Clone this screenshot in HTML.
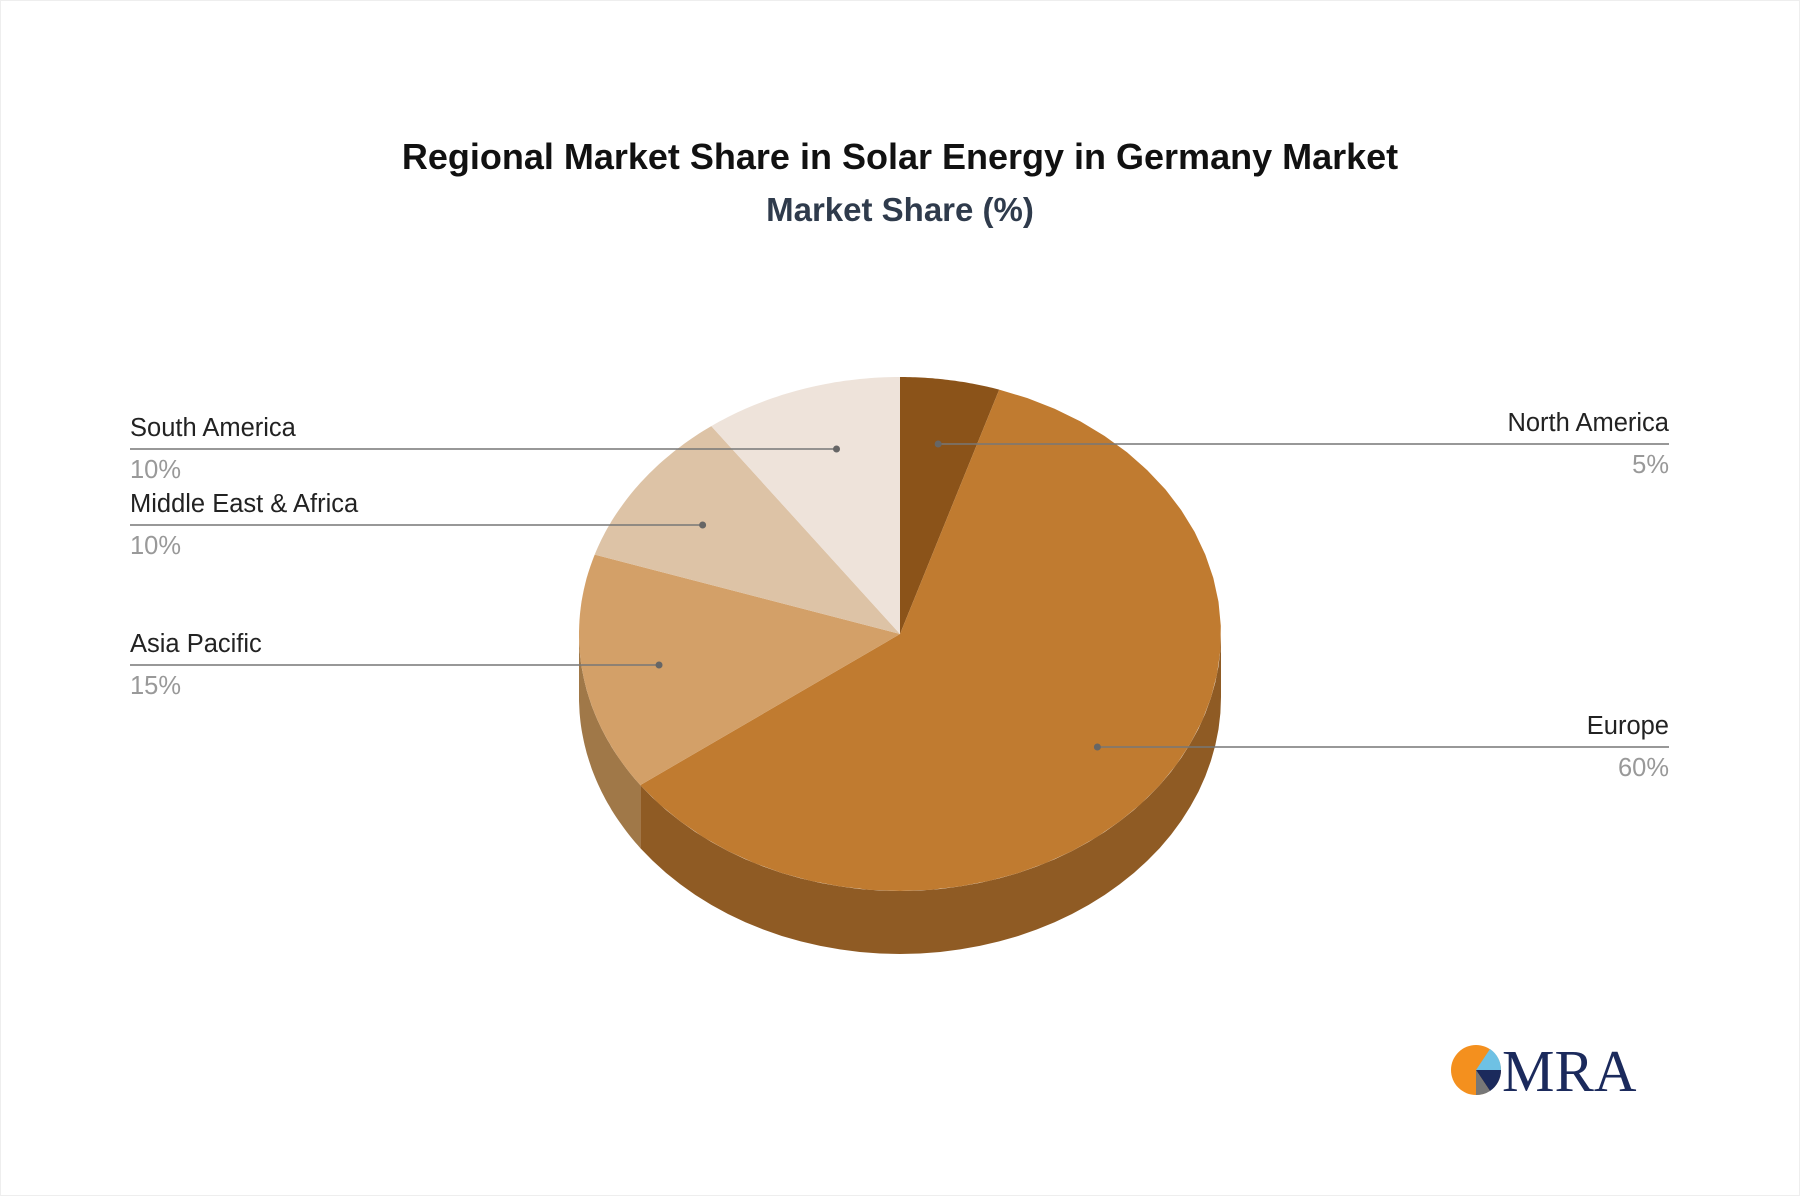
<!DOCTYPE html>
<html><head><meta charset="utf-8"><style>
body{margin:0;width:1800px;height:1196px;background:#fff;overflow:hidden;font-family:"Liberation Sans",sans-serif}
#frame{position:absolute;left:0;top:0;width:1798px;height:1194px;border:1px solid #eee}
</style></head><body>
<div id="frame"></div>
<svg id="chart" width="1800" height="1196" style="position:absolute;left:0;top:0">
<text x="900" y="169" text-anchor="middle" font-size="36" font-weight="bold" fill="#111">Regional Market Share in Solar Energy in Germany Market</text>
<text x="900" y="221" text-anchor="middle" font-size="33" font-weight="bold" fill="#2f3b4c">Market Share (%)</text>
<g id="sides"></g><g id="tops"></g><g id="labels"></g>
<g>
<circle cx="1476" cy="1070" r="25" fill="#F4901E"/>
<path d="M1476 1070 L1501 1070 A25 25 0 0 0 1490 1049 Z" fill="#6EC1E4"/>
<path d="M1476 1070 L1490 1091 A25 25 0 0 0 1501 1070 Z" fill="#1B2A5C"/>
<path d="M1476 1070 L1476 1095 A25 25 0 0 0 1490 1091 Z" fill="#777"/>
<text x="1502" y="1091" font-family="Liberation Serif,serif" font-size="59" fill="#1B2A5C">MRA</text>
</g>
</svg>
<script>
const categories=["North America","Europe","Asia Pacific","Middle East & Africa","South America"];
const shares=[5,60,15,10,10];
const pctLabels=["5%","60%","15%","10%","10%"];
const topColors=["#8B5319","#C07B30","#D3A068","#DDC3A6","#EEE3DA"];
const sideColors=["#6E4214","#8F5B24","#A07848","#B09A80","#C0B5AA"];
const cx=900,cy=634,rx=321,ry=257,depth=63;
const NS="http://www.w3.org/2000/svg";
function pt(a,dy){return [cx+rx*Math.sin(a),cy-ry*Math.cos(a)+(dy||0)];}
function arc(a1,a2,dy){let s="";const n=40;for(let i=0;i<=n;i++){const a=a1+(a2-a1)*i/n;const p=pt(a,dy);s+=(i?"L":"")+p[0].toFixed(1)+" "+p[1].toFixed(1)+" ";}return s;}
const total=shares.reduce((a,b)=>a+b,0);
let acc=0;
const sides=document.getElementById('sides'),tops=document.getElementById('tops'),labels=document.getElementById('labels');
const labelSide=["right","right","left","left","left"];
const labelY=[444,747,665,525,449];
shares.forEach((v,i)=>{
  const a1=acc/total*2*Math.PI;acc+=v;const a2=acc/total*2*Math.PI;
  const s1=Math.max(a1,Math.PI/2),s2=Math.min(a2,3*Math.PI/2);
  if(s2>s1){
    const p=document.createElementNS(NS,'path');
    p.setAttribute('d',"M"+arc(s1,s2,0)+"L"+arc(s2,s1,depth)+"Z");
    p.setAttribute('fill',sideColors[i]);
    
    
    sides.appendChild(p);
  }
  const t=document.createElementNS(NS,'path');
  t.setAttribute('d',"M"+cx+" "+cy+" L"+arc(a1,a2,0)+"Z");
  t.setAttribute('fill',topColors[i]);
  
  
  tops.appendChild(t);
  const am=(a1+a2)/2;
  const f=(i===4)?0.64:0.76;
  const dx=cx+rx*f*Math.sin(am);
  const ly=labelY[i];const right=labelSide[i]==="right";
  const xEnd=right?1669:130;
  const ln=document.createElementNS(NS,'line');
  ln.setAttribute('x1',dx);ln.setAttribute('y1',ly);ln.setAttribute('x2',xEnd);ln.setAttribute('y2',ly);
  ln.setAttribute('stroke','#777');ln.setAttribute('stroke-width','1.5');
  
  
  labels.appendChild(ln);
  const c=document.createElementNS(NS,'circle');
  c.setAttribute('cx',dx);c.setAttribute('cy',ly);c.setAttribute('r','3.5');c.setAttribute('fill','#666');
  
  
  labels.appendChild(c);
  const tx=document.createElementNS(NS,'text');
  tx.setAttribute('x',xEnd);tx.setAttribute('y',ly-13);tx.setAttribute('font-size','25.5');tx.setAttribute('fill','#222');
  tx.setAttribute('text-anchor',right?'end':'start');tx.textContent=categories[i];
  
  
  labels.appendChild(tx);
  const tp=document.createElementNS(NS,'text');
  tp.setAttribute('x',xEnd);tp.setAttribute('y',ly+29);tp.setAttribute('font-size','25.5');tp.setAttribute('fill','#999');
  tp.setAttribute('text-anchor',right?'end':'start');tp.textContent=pctLabels[i];
  
  
  labels.appendChild(tp);
});
</script>
</body></html>
